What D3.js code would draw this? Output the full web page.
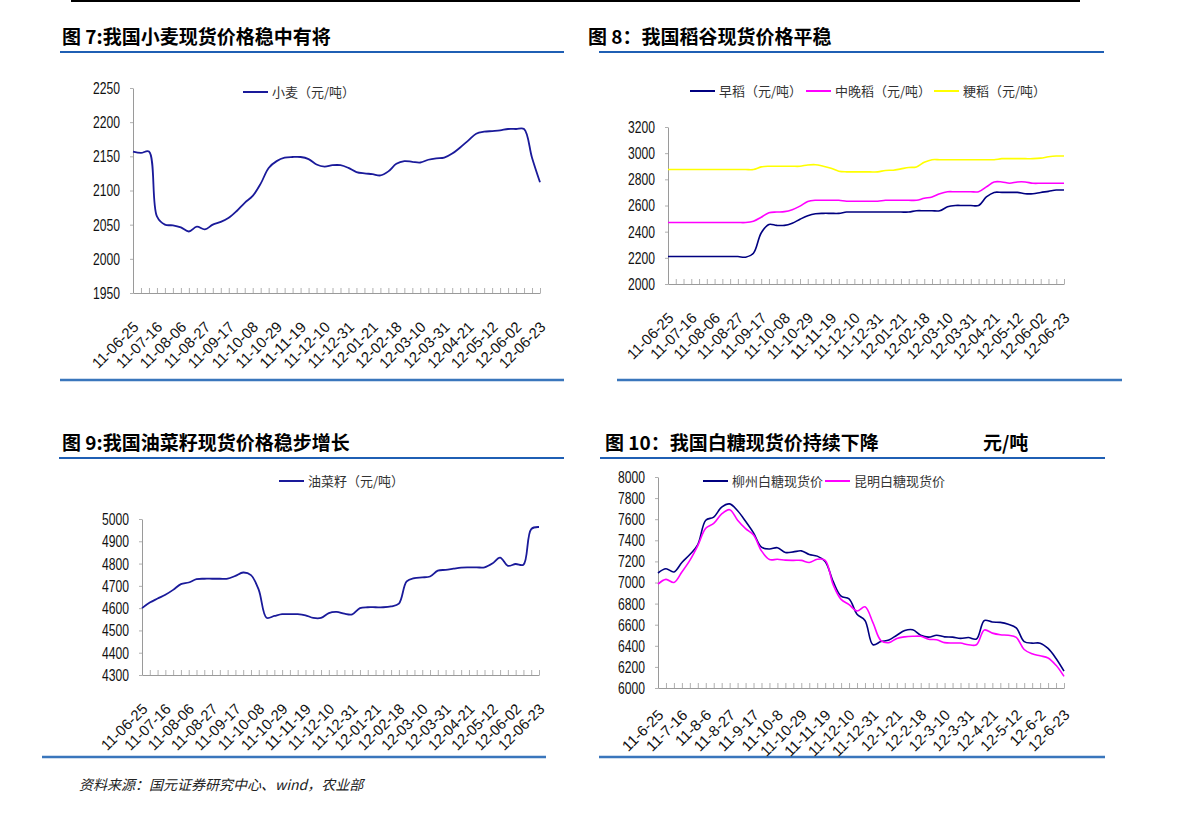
<!DOCTYPE html>
<html lang="zh">
<head>
<meta charset="UTF-8">
<title>农产品现货价格</title>
<script src="https://d3js.org/d3.v7.min.js"></script>
<style>
  body { margin: 0; background: #fff; }
  svg { display: block; }
  .title { font-family: "Noto Sans CJK SC", sans-serif; font-weight: bold; font-size: 19px; fill: #000; }
  .legend { font-family: "Noto Sans CJK SC", sans-serif; font-size: 13px; fill: #333; }
  .source { font-family: "Noto Sans CJK SC", sans-serif; font-size: 14px; font-style: italic; fill: #222; }
</style>
</head>
<body>
<script>
// weekly dates (one week skipped around the spring festival)
const weeks = ["11-06-25","11-07-02","11-07-09","11-07-16","11-07-23","11-07-30","11-08-06","11-08-13","11-08-20","11-08-27",
  "11-09-03","11-09-10","11-09-17","11-09-24","11-10-01","11-10-08","11-10-15","11-10-22","11-10-29","11-11-05",
  "11-11-12","11-11-19","11-11-26","11-12-03","11-12-10","11-12-17","11-12-24","11-12-31","12-01-07","12-01-14",
  "12-01-21","12-02-04","12-02-11","12-02-18","12-02-25","12-03-03","12-03-10","12-03-17","12-03-24","12-03-31",
  "12-04-07","12-04-14","12-04-21","12-04-28","12-05-05","12-05-12","12-05-19","12-05-26","12-06-02","12-06-09",
  "12-06-16","12-06-23"];

const tickWeeks = ["11-06-25","11-07-16","11-08-06","11-08-27","11-09-17","11-10-08","11-10-29","11-11-19","11-12-10",
  "11-12-31","12-01-21","12-02-18","12-03-10","12-03-31","12-04-21","12-05-12","12-06-02","12-06-23"];
const sugarTickLabels = ["11-6-25","11-7-16","11-8-6","11-8-27","11-9-17","11-10-8","11-10-29","11-11-19","11-12-10",
  "11-12-31","12-1-21","12-2-18","12-3-10","12-3-31","12-4-21","12-5-12","12-6-2","12-6-23"];

const wheat = [2157,2155,2157,2062,2050,2049,2046,2040,2047,2043, 2050,2054,2060,2070,2082,2092,2110,2133,2143,2148,
  2149,2149,2146,2138,2135,2137,2137,2133,2127,2125, 2124,2122,2128,2139,2143,2142,2141,2145,2147,2148,
  2154,2163,2173,2183,2186,2187,2188,2190,2190,2190, 2148,2112];
const wheatTicks = [1950,2000,2050,2100,2150,2200,2250];

const earlyRice = [2210,2210,2210,2210,2210,2210,2210,2210,2210,2210, 2205,2235,2390,2455,2448,2448,2465,2495,2522,2537,
  2540,2540,2540,2550,2550,2550,2550,2550,2550,2550, 2550,2550,2560,2560,2560,2560,2590,2600,2600,2600,
  2600,2665,2700,2700,2700,2700,2690,2690,2700,2708, 2718,2718];
const midLateRice = [2470,2470,2470,2470,2470,2470,2470,2470,2470,2470, 2470,2480,2510,2545,2550,2553,2568,2595,2630,2640,
  2640,2640,2640,2633,2633,2633,2633,2633,2640,2640, 2640,2640,2640,2655,2665,2690,2705,2705,2705,2705,
  2705,2742,2780,2780,2770,2780,2780,2770,2770,2770, 2770,2770];
const japonicaRice = [2875,2875,2875,2875,2875,2875,2875,2875,2875,2875, 2875,2875,2895,2900,2900,2900,2900,2900,2910,2912,
  2900,2885,2862,2857,2857,2857,2857,2857,2868,2870, 2880,2890,2895,2930,2950,2950,2950,2950,2950,2950,
  2950,2950,2950,2958,2958,2958,2958,2958,2962,2972, 2978,2978];
const riceTicks = [2000,2200,2400,2600,2800,3000,3200];

const rapeseed = [4600,4625,4643,4660,4682,4708,4715,4730,4732,4732, 4732,4732,4745,4760,4748,4682,4557,4565,4573,4573,
  4573,4568,4556,4556,4578,4583,4575,4572,4600,4604, 4604,4604,4608,4620,4720,4735,4738,4742,4768,4772,
  4777,4782,4783,4783,4783,4800,4827,4790,4798,4795, 4955,4964];
const rapeTicks = [4300,4400,4500,4600,4700,4800,4900,5000];

const sugarLiuzhou = [7090,7130,7100,7190,7265,7360,7590,7620,7715,7745, 7680,7580,7470,7335,7318,7330,7285,7290,7300,7265,
  7250,7200,7010,6870,6845,6700,6640,6410,6440,6455, 6500,6545,6552,6500,6482,6500,6485,6482,6470,6478,
  6465,6640,6625,6622,6605,6570,6440,6425,6425,6375, 6280,6160];
const sugarKunming = [6985,7030,7000,7100,7210,7350,7515,7560,7650,7690, 7590,7510,7450,7300,7218,7220,7212,7210,7210,7190,
  7220,7210,6980,6840,6790,6730,6770,6620,6450,6430, 6470,6485,6490,6490,6462,6458,6430,6426,6426,6410,
  6410,6550,6520,6505,6500,6480,6365,6325,6305,6285, 6215,6110];
const sugarTicks = [6000,6200,6400,6600,6800,7000,7200,7400,7600,7800,8000];

const W = 1191, H = 814;
// narrow-looking numbers: Arial-like glyphs squeezed with textLength
const numFont = '"Liberation Sans", Arial, sans-serif';

const svg = d3.select("body").append("svg")
    .attr("width", W)
    .attr("height", H);

// page rule at the very top
svg.append("line").attr("x1", 71).attr("x2", 1080).attr("y1", 1).attr("y2", 1)
    .attr("stroke", "#000").attr("stroke-width", 2);

function drawChart(o) {
    const g = svg.append("g");

    g.append("text").attr("class", "title")
        .attr("x", o.titleX).attr("y", o.titleY).attr("dy", "0.35em")
        .text(o.title);
    if (o.unit) {
        g.append("text").attr("class", "title")
            .attr("x", o.unitX).attr("y", o.titleY).attr("dy", "0.35em")
            .text(o.unit);
    }
    g.append("line")
        .attr("x1", o.ruleX0).attr("x2", o.ruleX1)
        .attr("y1", o.titleY + 15).attr("y2", o.titleY + 15)
        .attr("stroke", "#1f5fb4").attr("stroke-width", 2);
    g.append("line")
        .attr("x1", o.bottomX0).attr("x2", o.bottomX1)
        .attr("y1", o.bottomY).attr("y2", o.bottomY)
        .attr("stroke", "#3a76bc").attr("stroke-width", 2.5);

    const x = d3.scalePoint().domain(weeks).range([o.x0, o.x1]);
    const y = d3.scaleLinear().domain(d3.extent(o.ticks)).range([o.y1, o.y0]);

    const labelOf = new Map(tickWeeks.map((d, i) => [d, o.tickLabels[i]]));

    const xa = g.append("g")
        .attr("transform", `translate(0,${o.y1})`)
        .call(d3.axisBottom(x).tickSizeInner(-5).tickSizeOuter(0)
            .tickFormat(d => labelOf.get(d) || ""));
    xa.attr("font-family", numFont).attr("font-size", 15);
    xa.select(".domain").attr("stroke", "#9a9a9a");
    xa.selectAll(".tick line").attr("stroke", "#b0b0b0");
    xa.selectAll(".tick text")
        .filter(d => labelOf.has(d))
        .attr("x", 0).attr("y", 0).attr("dy", null)
        .attr("fill", "#111")
        .attr("textLength", d => labelOf.get(d).length * 7.3)
        .attr("lengthAdjust", "spacingAndGlyphs")
        .attr("text-anchor", "end")
        .attr("transform", `translate(6,${o.labelDy}) rotate(-45)`);

    const ya = g.append("g")
        .attr("transform", `translate(${o.x0},0)`)
        .call(d3.axisLeft(y).tickValues(o.ticks).tickFormat(d3.format("d"))
            .tickSizeInner(3).tickSizeOuter(0).tickPadding(10));
    ya.attr("font-family", numFont).attr("font-size", 17);
    ya.select(".domain").attr("stroke", "#9a9a9a");
    ya.selectAll(".tick line").attr("stroke", "#b0b0b0");
    ya.selectAll(".tick text").attr("fill", "#111")
        .attr("textLength", 27)
        .attr("lengthAdjust", "spacingAndGlyphs");

    const line = d3.line()
        .x((d, i) => x(weeks[i]))
        .y(d => y(d))
        .curve(d3.curveCatmullRom.alpha(0.5));

    o.series.forEach(s => {
        g.append("path")
            .datum(s.values)
            .attr("fill", "none")
            .attr("stroke", s.color)
            .attr("stroke-width", s.width || 1.6)
            .attr("d", line);

        g.append("line")
            .attr("x1", s.lx).attr("x2", s.lx + 25)
            .attr("y1", o.legendY).attr("y2", o.legendY)
            .attr("stroke", s.color).attr("stroke-width", 2);
        g.append("text").attr("class", "legend")
            .attr("x", s.lx + 29).attr("y", o.legendY).attr("dy", "0.35em")
            .text(s.name);
    });
}

drawChart({
    title: "图 7:我国小麦现货价格稳中有将", titleX: 62, titleY: 37,
    ruleX0: 60, ruleX1: 564, bottomX0: 60, bottomX1: 564, bottomY: 380,
    x0: 133, x1: 540, y0: 88, y1: 293, ticks: wheatTicks,
    tickLabels: tickWeeks, labelDy: 35, legendY: 92,
    series: [{ name: "小麦（元/吨）", values: wheat, color: "#1a1a9a", lx: 243, width: 1.8 }]
});

drawChart({
    title: "图 8：我国稻谷现货价格平稳", titleX: 588, titleY: 37,
    ruleX0: 599, ruleX1: 1104, bottomX0: 617, bottomX1: 1122, bottomY: 380,
    x0: 668, x1: 1064, y0: 127, y1: 284, ticks: riceTicks,
    tickLabels: tickWeeks, labelDy: 35, legendY: 91,
    series: [
        { name: "早稻（元/吨）", values: earlyRice, color: "#000080", lx: 690 },
        { name: "中晚稻（元/吨）", values: midLateRice, color: "#ff00ff", lx: 806 },
        { name: "粳稻（元/吨）", values: japonicaRice, color: "#ffff00", lx: 934 }
    ]
});

drawChart({
    title: "图 9:我国油菜籽现货价格稳步增长", titleX: 62, titleY: 443,
    ruleX0: 59, ruleX1: 564, bottomX0: 42, bottomX1: 546, bottomY: 757,
    x0: 142, x1: 539, y0: 519, y1: 675, ticks: rapeTicks,
    tickLabels: tickWeeks, labelDy: 35, legendY: 481,
    series: [{ name: "油菜籽（元/吨）", values: rapeseed, color: "#1a1a9a", lx: 279, width: 1.8 }]
});

drawChart({
    title: "图 10：我国白糖现货价持续下降", titleX: 605, titleY: 443,
    unit: "元/吨", unitX: 983,
    ruleX0: 600, ruleX1: 1105, bottomX0: 599, bottomX1: 1105, bottomY: 757,
    x0: 658, x1: 1064, y0: 477, y1: 688, ticks: sugarTicks,
    tickLabels: sugarTickLabels, labelDy: 28, legendY: 481,
    series: [
        { name: "柳州白糖现货价", values: sugarLiuzhou, color: "#000080", lx: 703 },
        { name: "昆明白糖现货价", values: sugarKunming, color: "#ff00ff", lx: 825 }
    ]
});

svg.append("text").attr("class", "source")
    .attr("x", 79).attr("y", 785).attr("dy", "0.35em")
    .text("资料来源：国元证券研究中心、wind，农业部");
</script>
</body>
</html>
